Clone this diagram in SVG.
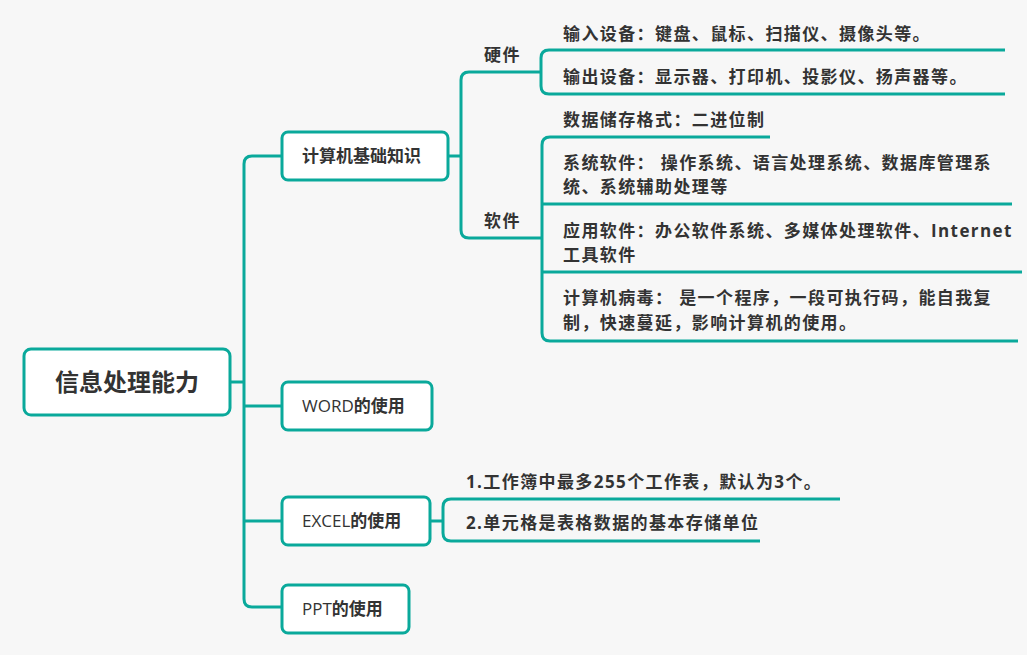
<svg xmlns="http://www.w3.org/2000/svg" width="1027" height="655" viewBox="0 0 1027 655">
<style>
text{font-family:"Open Sans","Noto Sans CJK SC",sans-serif;fill:#333;font-size:16px}
.b{font-weight:bold}
.lf{font-size:17px;letter-spacing:1.4px}
.box{fill:#fff;stroke:#0aa99b;stroke-width:3}
.ln{fill:none;stroke:#0aa99b;stroke-width:3}
</style>
<rect width="1027" height="655" fill="#f7f7f7"/>
<g id="connectors" class="ln">
<path d="M230 382H244M282 156H252Q244 156 244 164V599Q244 607 252 607H282M244 406H282M244 521H282"/>
<path d="M448 156H461M541 72H469Q461 72 461 80V230Q461 238 469 238H542"/>
<path d="M1005 50H549Q541 50 541 58V86Q541 94 549 94H1005"/>
<path d="M770 137H550Q542 137 542 145V333Q542 341 550 341H1018M542 204H1012M542 272H1022"/>
<path d="M430 521H443M840 499H451Q443 499 443 507V533Q443 541 451 541H760"/>
</g>
<g id="root"><rect class="box" x="24" y="349" width="206" height="66" rx="7"/><text x="127" y="391" text-anchor="middle" class="b" style="font-size:24px">信息处理能力</text></g>
<g id="n1"><rect class="box" x="282" y="132" width="166" height="48" rx="6"/><text x="302" y="162" class="b" style="font-size:17px">计算机基础知识</text></g>
<g id="n2"><rect class="box" x="282" y="382" width="150" height="48" rx="6"/><text x="302" y="412" style="font-size:17px">WORD<tspan class="b">的使用</tspan></text></g>
<g id="n3"><rect class="box" x="282" y="497" width="148" height="48" rx="6"/><text x="302" y="527" style="font-size:17px">EXCEL<tspan class="b">的使用</tspan></text></g>
<g id="n4"><rect class="box" x="282" y="585" width="127" height="48" rx="6"/><text x="302" y="615" style="font-size:17px">PPT<tspan class="b">的使用</tspan></text></g>
<g id="hw"><text x="484" y="61" class="b lf">硬件</text></g>
<g id="sw"><text x="484" y="227" class="b lf">软件</text></g>
<g id="l1"><text x="563" y="40" class="b lf">输入设备：键盘、鼠标、扫描仪、摄像头等。</text></g>
<g id="l2"><text x="563" y="83" class="b lf">输出设备：显示器、打印机、投影仪、扬声器等。</text></g>
<g id="l3"><text x="563" y="126" class="b lf">数据储存格式：二进位制</text></g>
<g id="l4"><text x="563" y="169" class="b lf">系统软件： 操作系统、语言处理系统、数据库管理系</text><text x="563" y="193" class="b lf">统、系统辅助处理等</text></g>
<g id="l5"><text x="563" y="237" class="b lf">应用软件：办公软件系统、多媒体处理软件、Internet</text><text x="563" y="261" class="b lf">工具软件</text></g>
<g id="l6"><text x="563" y="304" class="b lf">计算机病毒： 是一个程序，一段可执行码，能自我复</text><text x="563" y="329" class="b lf">制，快速蔓延，影响计算机的使用。</text></g>
<g id="e1"><text x="466" y="488" class="b lf">1.工作簿中最多255个工作表，默认为3个。</text></g>
<g id="e2"><text x="466" y="529" class="b lf">2.单元格是表格数据的基本存储单位</text></g>
</svg>
